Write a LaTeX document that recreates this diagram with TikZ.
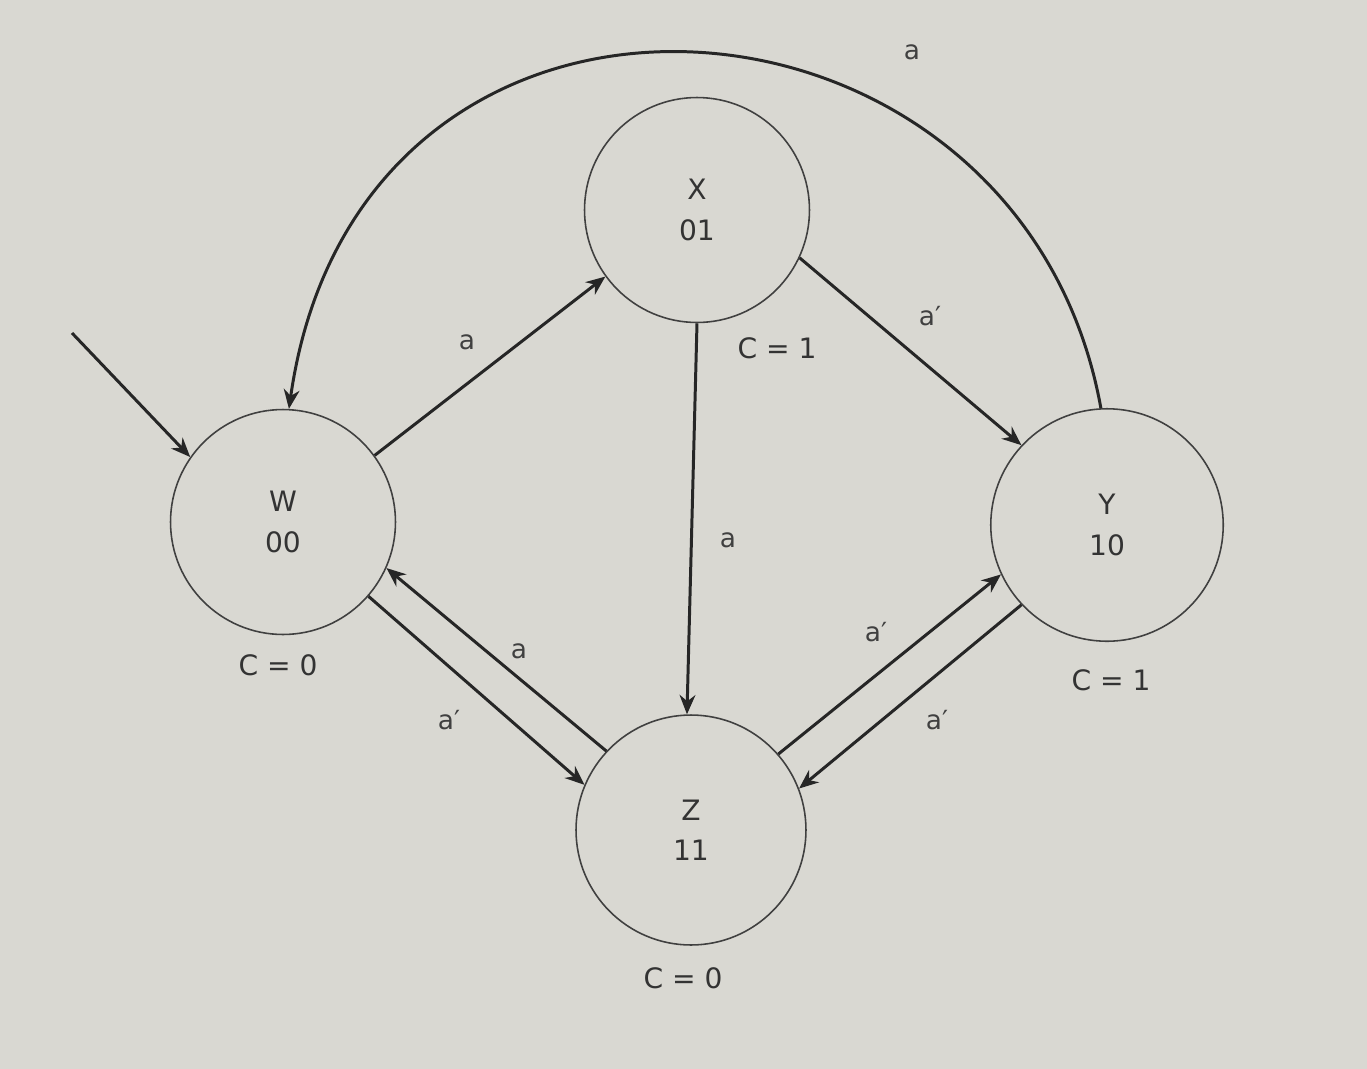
\documentclass[tikz,border=0pt]{standalone}
\usepackage{fontspec}
\setmainfont{DejaVu Sans}
\usetikzlibrary{arrows.meta}
\begin{document}
\begin{tikzpicture}[x=0.02cm,y=-0.02cm,
  state/.style={circle,draw=black!75,line width=0.9pt,minimum size=4.5cm,inner sep=0pt,align=center,font=\fontsize{16}{23}\selectfont,text=black!80},
  edge/.style={line width=1.7pt,draw=black!85,-{Stealth[length=11pt,width=9pt]}},
  lbl/.style={font=\fontsize{15}{18}\selectfont,text=black!75},
  outlbl/.style={font=\fontsize{16}{20}\selectfont,text=black!80}]
\fill[color={rgb,255:red,217;green,216;blue,210}] (0,0) rectangle (1367,1069);
\useasboundingbox (0,0) rectangle (1367,1069);
\node[state] (W) at (283,522) {W\\00};
\node[state] (X) at (697,210) {X\\01};
\node[state,minimum size=4.65cm] (Y) at (1107,525) {Y\\10};
\node[state,minimum size=4.6cm] (Z) at (691,830) {Z\\11};
\node[outlbl] (cw) at (278,665) {C = 0};
\node[outlbl] (cx) at (777,348) {C = 1};
\node[outlbl] (cy) at (1111,680) {C = 1};
\node[outlbl] (cz) at (683,978) {C = 0};
\coordinate (init) at (72,333);
\draw[edge] (init) -- (W.145);
\draw[edge] (W.36) -- (X.216);
\node[lbl] (l1) at (467,342) {a};
\draw[edge] (X.335) -- (Y.137);
\node[lbl] (l2) at (930,316) {a′};
\draw[edge] (X.270) -- (Z.92);
\node[lbl] (l3) at (728,540) {a};
\coordinate (c1) at (1020,-40);
\coordinate (c2) at (360,-90);
\draw[edge] (Y.93) .. controls (c1) and (c2) .. (W.87);
\node[lbl] (l4) at (912,52) {a};
\draw[edge] (Z.137) -- (W.336);
\node[lbl] (l5) at (519,651) {a};
\draw[edge] (W.319) -- (Z.157);
\node[lbl] (l6) at (449,720) {a′};
\draw[edge] (Z.41) -- (Y.205);
\node[lbl] (l7) at (876,632) {a′};
\draw[edge] (Y.223) -- (Z.21);
\node[lbl] (l8) at (937,720) {a′};
\end{tikzpicture}
\end{document}
